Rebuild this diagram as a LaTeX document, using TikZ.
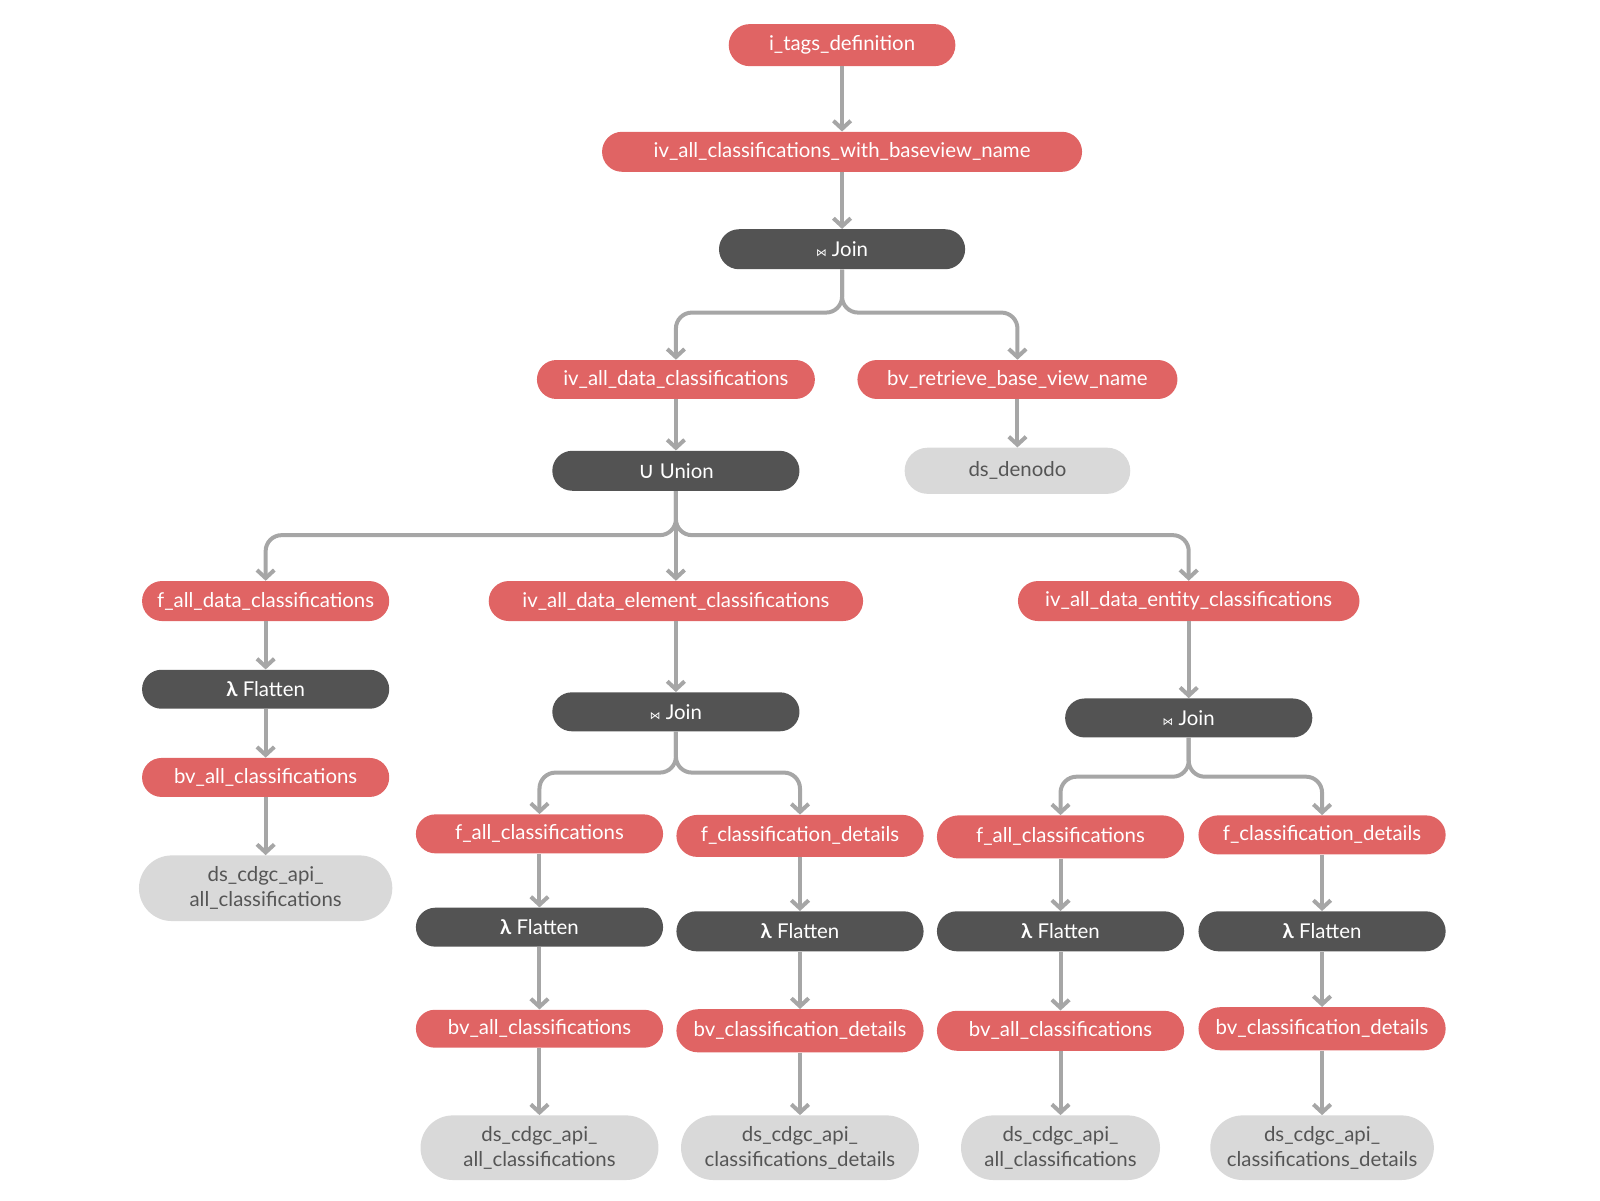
\documentclass[tikz,border=0pt]{standalone}
\usepackage{fontspec}
\setmainfont{Lato}
\newfontfamily\symfont{DejaVu Sans}
\usetikzlibrary{arrows.meta}
\definecolor{nred}{HTML}{E06464}
\definecolor{ndark}{HTML}{535353}
\definecolor{ngrey}{HTML}{D9D9D9}
\definecolor{ngreytext}{HTML}{555555}
\definecolor{conn}{HTML}{A6A6A6}
\newcommand\joinsym{{\symfont\fontsize{8}{8}\selectfont ⋈}}
\newcommand\lam{{\bfseries λ}}
\newcommand\unionsym{{\symfont\fontsize{17}{17}\selectfont ∪}}
\begin{document}
\begin{tikzpicture}[x=0.7692pt, y=-0.7692pt,
  base/.style={rectangle, inner sep=0pt, font=\fontsize{15.3}{18}\selectfont},
  rnode/.style={base, fill=nred, text=white},
  dnode/.style={base, fill=ndark, text=white},
  gnode/.style={base, fill=ngrey, text=ngreytext, align=center, font=\fontsize{15.3}{18.5}\selectfont},
  w/.style={minimum width=#1*0.7692pt},
  h/.style={minimum height=#1*0.7692pt, rounded corners=#1*0.3846pt},
  link/.style={draw=conn, line width=3pt, -{Straight Barb[length=6pt,width=13pt]}},
  branch/.style={link, rounded corners=12pt},
]
\path[use as bounding box] (0,0) rectangle (1560,1170);

\node[rnode,w=221,h=41] (itags) at (821,44) {i\_tags\_definition};
\node[rnode,w=468,h=39] (ivbase) at (821,148) {iv\_all\_classifications\_with\_baseview\_name};
\node[dnode,w=240,h=39] (j1) at (821,243) {\joinsym\ Join};
\node[rnode,w=271,h=38] (ivdata) at (659,370) {iv\_all\_data\_classifications};
\node[rnode,w=312,h=38] (bvret) at (992,370) {bv\_retrieve\_base\_view\_name};
\node[dnode,w=241,h=39] (un) at (659,459) {\unionsym\ Union};
\node[gnode,w=220,h=45] (dsden) at (992,459) {ds\_denodo};

\node[rnode,w=241,h=39] (fadc) at (259,586) {f\_all\_data\_classifications};
\node[rnode,w=365,h=39] (ivel) at (659,586) {iv\_all\_data\_element\_classifications};
\node[rnode,w=333,h=39] (iven) at (1159,586) {iv\_all\_data\_entity\_classifications};

\node[dnode,w=241,h=38] (fl0) at (259,672) {\lam\ Flatten};
\node[dnode,w=241,h=38] (j2) at (659,694) {\joinsym\ Join};
\node[dnode,w=241,h=38] (j3) at (1159,700) {\joinsym\ Join};
\node[rnode,w=241,h=38] (bv0) at (259,758) {bv\_all\_classifications};
\node[gnode,w=247,h=64] (ds0) at (259,866) {ds\_cdgc\_api\_\\all\_classifications};

\node[rnode,w=241,h=38] (f1) at (526,813) {f\_all\_classifications};
\node[rnode,w=241,h=41] (f2) at (780,815) {f\_classification\_details};
\node[rnode,w=241,h=42] (f3) at (1034,816) {f\_all\_classifications};
\node[rnode,w=241,h=38] (f4) at (1289,814) {f\_classification\_details};

\node[dnode,w=241,h=38] (fl1) at (526,904) {\lam\ Flatten};
\node[dnode,w=241,h=39] (fl2) at (780,908) {\lam\ Flatten};
\node[dnode,w=241,h=39] (fl3) at (1034,908) {\lam\ Flatten};
\node[dnode,w=241,h=39] (fl4) at (1289,908) {\lam\ Flatten};

\node[rnode,w=241,h=37] (bv1) at (526,1003) {bv\_all\_classifications};
\node[rnode,w=241,h=42] (bv2) at (780,1005) {bv\_classification\_details};
\node[rnode,w=241,h=39] (bv3) at (1034,1005) {bv\_all\_classifications};
\node[rnode,w=241,h=42] (bv4) at (1289,1003) {bv\_classification\_details};

\node[gnode,w=232,h=63] (ds1) at (526,1119) {ds\_cdgc\_api\_\\all\_classifications};
\node[gnode,w=232,h=63] (ds2) at (780,1119) {ds\_cdgc\_api\_\\classifications\_details};
\node[gnode,w=194,h=63] (ds3) at (1034,1119) {ds\_cdgc\_api\_\\all\_classifications};
\node[gnode,w=218,h=63] (ds4) at (1289,1119) {ds\_cdgc\_api\_\\classifications\_details};

\draw[link] (itags) -- (ivbase);
\draw[link] (ivbase) -- (j1);
\draw[branch] (j1.south) -- ++(0,42) -| (ivdata.north);
\draw[branch] (j1.south) -- ++(0,42) -| (bvret.north);
\draw[link] (ivdata) -- (un);
\draw[link] (bvret) -- (dsden);
\draw[branch] (un.south) -- ++(0,43) -| (fadc.north);
\draw[branch] (un.south) -- ++(0,43) -| (iven.north);
\draw[link] (un) -- (ivel);
\draw[link] (fadc) -- (fl0);
\draw[link] (fl0) -- (bv0);
\draw[link] (bv0) -- (ds0);
\draw[link] (ivel) -- (j2);
\draw[link] (iven) -- (j3);
\draw[branch] (j2.south) -- ++(0,40) -| (f1.north);
\draw[branch] (j2.south) -- ++(0,40) -| (f2.north);
\draw[branch] (j3.south) -- ++(0,38) -| (f3.north);
\draw[branch] (j3.south) -- ++(0,38) -| (f4.north);
\foreach \i in {1,2,3,4}{
  \draw[link] (f\i) -- (fl\i);
  \draw[link] (fl\i) -- (bv\i);
  \draw[link] (bv\i) -- (ds\i);
}
\end{tikzpicture}
\end{document}
